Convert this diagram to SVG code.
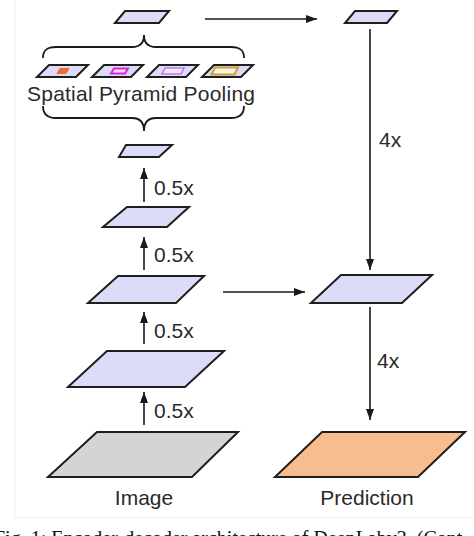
<svg xmlns="http://www.w3.org/2000/svg" width="474" height="536" viewBox="0 0 474 536">
<defs>
<style>
.node{fill:#dcdcf8;stroke:#1e1e1e;stroke-width:2;stroke-linejoin:miter}
.img{fill:#d4d4d4;stroke:#1e1e1e;stroke-width:2}
.pred{fill:#f8bd8e;stroke:#1e1e1e;stroke-width:2}
.tile{fill:#dcdcf8;stroke:#1e1e1e;stroke-width:2}
.conn{stroke:#1a1a1a;stroke-width:1.6;fill:none}
.brace{stroke:#1a1a1a;stroke-width:1.8;fill:none}
.lbl{font-family:"Liberation Sans",Arial,sans-serif;font-size:21px;fill:#2a2a2a}
.cap{font-family:"Liberation Serif","Times New Roman",serif;font-size:20px;fill:#111}
</style>
<marker id="ah" markerUnits="userSpaceOnUse" markerWidth="11" markerHeight="8" refX="11" refY="4" orient="auto">
<path d="M0,0 L11,4 L0,8 z" fill="#1a1a1a"/>
</marker>
</defs>
<rect x="15" y="-2" width="470" height="519.5" fill="#ffffff" stroke="#eeeeee" stroke-width="1"/>

<g id="top-left">
<polygon class="node" points="125,11 169,11 159,23 115,23"/>
</g>
<g id="top-right">
<polygon class="node" points="355,11 397,11 387,23 345,23"/>
</g>

<g id="spp">
<path class="brace" d="M43,58 C43,50 47,47 56,47 L132,47 C140,47 144,43 144,35 C144,43 148,47 156,47 L231,47 C240,47 244,50 244,58"/>
<polygon class="tile" points="49,65 88,65 76,77 37,77"/>
<polygon points="60,68.5 69,68.5 66,73.5 57,73.5" fill="#f06a38" stroke="#f06a38" stroke-width="1"/>
<polygon class="tile" points="104,65 143,65 131,77 92,77"/>
<polygon points="114,68.5 128,68.5 125,73.5 111,73.5" fill="#f6e4f8" stroke="#e21ee2" stroke-width="2"/>
<polygon class="tile" points="159,65 198,65 186,77 147,77"/>
<polygon points="165,68 184,68 181,74 162,74" fill="#f3e8fb" stroke="#c07af0" stroke-width="1.6"/>
<polygon class="tile" points="214,65 253,65 241,77 202,77"/>
<polygon points="215,67.5 238,67.5 234.5,74.5 211.5,74.5" fill="#fdf2dc" stroke="#c9a040" stroke-width="2"/>
<text class="lbl" x="141" y="101" text-anchor="middle" textLength="228">Spatial Pyramid Pooling</text>
<path class="brace" d="M43,106 C43,114 47,118 56,118 L132,118 C140,118 144,122 144,131 C144,122 148,118 156,118 L231,118 C240,118 244,114 244,106"/>
</g>

<g id="enc-1">
<polygon class="node" points="126,145 172,145 159,157 119,157"/>
</g>
<g id="enc-2">
<polygon class="node" points="127,207 189,207 167,227 103,227"/>
</g>
<g id="enc-3">
<polygon class="node" points="118,276 204,276 176,303 88,303"/>
</g>
<g id="enc-4">
<polygon class="node" points="107,351 224,351 185,387 68,387"/>
</g>
<g id="image">
<polygon class="img" points="97,432 238,432 192,477 48,477"/>
<text class="lbl" x="144" y="505" text-anchor="middle">Image</text>
</g>
<g id="dec-1">
<polygon class="node" points="341,275 432,275 402,303 311,303"/>
</g>
<g id="prediction">
<polygon class="pred" points="322,432 465,432 418,477 275,477"/>
<text class="lbl" x="367" y="505" text-anchor="middle">Prediction</text>
</g>

<g id="connectors">
<line class="conn" x1="205" y1="19" x2="317" y2="19" marker-end="url(#ah)"/>
<line class="conn" x1="144" y1="202" x2="144" y2="168" marker-end="url(#ah)"/>
<line class="conn" x1="144" y1="270" x2="144" y2="237" marker-end="url(#ah)"/>
<line class="conn" x1="144" y1="344" x2="144" y2="312" marker-end="url(#ah)"/>
<line class="conn" x1="144" y1="425" x2="144" y2="392" marker-end="url(#ah)"/>
<line class="conn" x1="223" y1="292" x2="305" y2="292" marker-end="url(#ah)"/>
<line class="conn" x1="370" y1="29" x2="370" y2="270" marker-end="url(#ah)"/>
<line class="conn" x1="370" y1="307" x2="370" y2="420" marker-end="url(#ah)"/>
<text class="lbl" x="154" y="195">0.5x</text>
<text class="lbl" x="154" y="262">0.5x</text>
<text class="lbl" x="154" y="338">0.5x</text>
<text class="lbl" x="154" y="418">0.5x</text>
<text class="lbl" x="379" y="147">4x</text>
<text class="lbl" x="377" y="368">4x</text>
</g>

<text class="cap" x="-6" y="545">Fig. 1: Encoder-decoder architecture of DeepLabv3. (Cont</text>
</svg>
